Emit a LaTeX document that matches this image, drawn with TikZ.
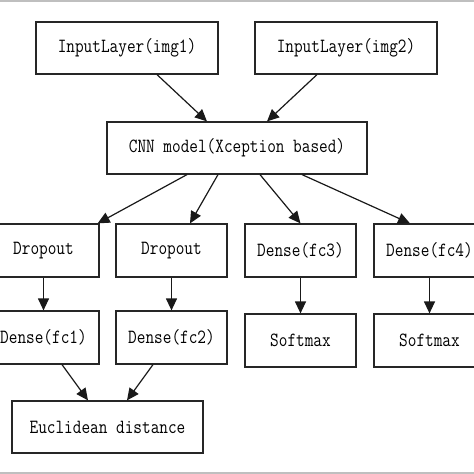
\documentclass[tikz,border=0pt]{standalone}
\usepackage{graphicx}
\usetikzlibrary{arrows.meta}
\newcommand{\lbl}[1]{\scalebox{1}[1.2]{#1}}
\begin{document}
\begin{tikzpicture}[x=1pt,y=-1pt,
  box/.style={draw=black!85,line width=1.2pt,inner sep=0pt,minimum height=52pt,font=\ttfamily\fontsize{16.8}{19}\selectfont},
  arr/.style={draw=black!90,line width=1.2pt,-{Triangle[length=12pt,width=11pt]}}]
\useasboundingbox (0,0) rectangle (474,474);
\clip (0,0) rectangle (474,474);
\fill[black!25] (0,0) rectangle (474,2);
\fill[black!25] (0,472) rectangle (474,474);
\node[box,minimum width=182pt] (in1) at (127,48) {\lbl{InputLayer(img1)}};
\node[box,minimum width=182pt] (in2) at (346,48) {\lbl{InputLayer(img2)}};
\node[box,minimum width=260pt] (cnn) at (237,148) {\lbl{CNN model(Xception based)}};
\node[box,minimum width=111pt,minimum height=53pt] (d1) at (43.5,250.5) {\lbl{Dropout}};
\node[box,minimum width=111pt,minimum height=53pt] (d2) at (171.5,250.5) {\lbl{Dropout}};
\node[box,minimum width=111pt,minimum height=53pt] (fc3) at (300.5,250.5) {\lbl{Dense(fc3)}};
\node[box,minimum width=111pt,minimum height=53pt] (fc4) at (429.5,250.5) {\lbl{Dense(fc4)}};
\node[box,minimum width=111pt,minimum height=53pt] (fc1) at (43.5,337.5) {\lbl{Dense(fc1)}};
\node[box,minimum width=111pt,minimum height=53pt] (fc2) at (171.5,337.5) {\lbl{Dense(fc2)}};
\node[box,minimum width=111pt,minimum height=53pt] (sm1) at (300.5,340.5) {\lbl{Softmax}};
\node[box,minimum width=111pt,minimum height=53pt] (sm2) at (429.5,340.5) {\lbl{Softmax}};
\node[box,minimum width=191pt] (eu) at (107.5,427) {\lbl{Euclidean distance}};
\draw[arr] ([xshift=30pt]in1.south) -- ([xshift=-30pt]cnn.north);
\draw[arr] ([xshift=-29pt]in2.south) -- ([xshift=30pt]cnn.north);
\draw[arr] ([xshift=-50pt]cnn.south) -- ([xshift=-2pt]d1.north east);
\draw[arr] ([xshift=-19pt]cnn.south) -- ([xshift=18.5pt]d2.north);
\draw[arr] ([xshift=23pt]cnn.south) -- (fc3.north);
\draw[arr] ([xshift=65pt]cnn.south) -- ([xshift=-19.5pt]fc4.north);
\draw[arr] (d1) -- (fc1);
\draw[arr] (d2) -- (fc2);
\draw[arr] (fc3) -- (sm1);
\draw[arr] (fc4) -- (sm2);
\draw[arr] ([xshift=18.5pt]fc1.south) -- ([xshift=-19.5pt]eu.north);
\draw[arr] ([xshift=-18.5pt]fc2.south) -- ([xshift=19.5pt]eu.north);
\end{tikzpicture}
\end{document}
